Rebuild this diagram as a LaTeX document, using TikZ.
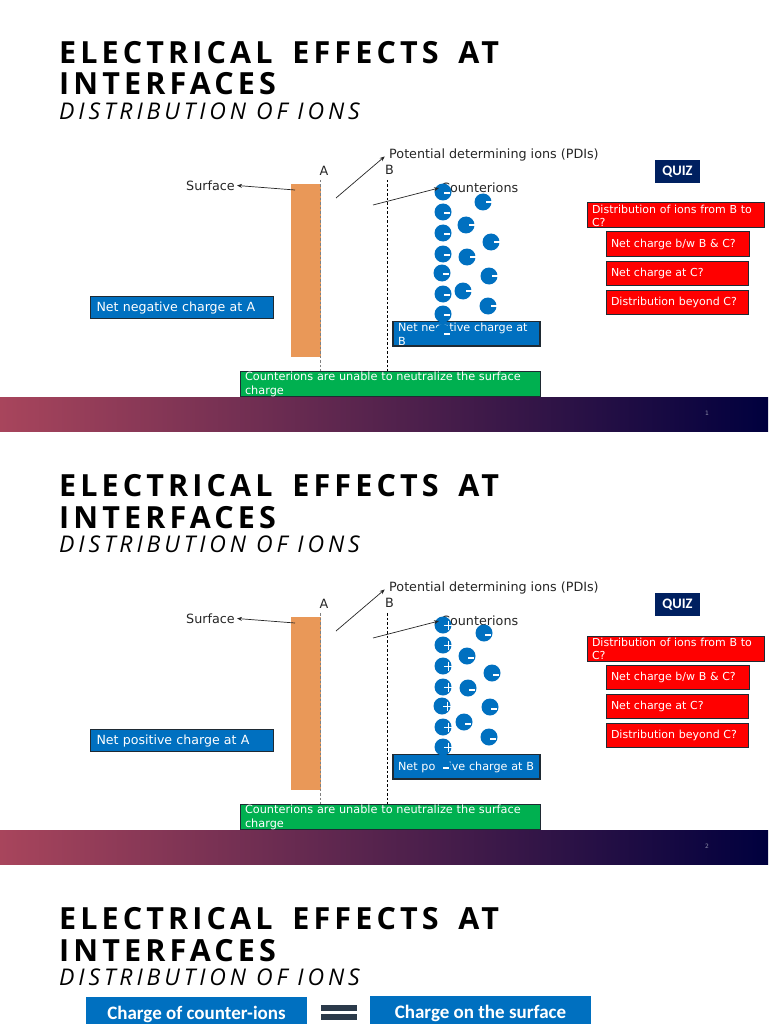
\documentclass[tikz,border=0pt]{standalone}
\usepackage{fontspec}
\setmainfont{DejaVu Sans}
\newfontfamily\titlefont[LetterSpace=13.5,WordSpace=1.64]{Open Sans}
\newfontfamily\subfont[LetterSpace=17]{Open Sans}
\newfontfamily\calfont{Carlito}
\usetikzlibrary{arrows.meta}
\definecolor{ionblue}{HTML}{0070C0}
\definecolor{boxgreen}{HTML}{00B050}
\definecolor{surfaceorange}{HTML}{E99858}
\definecolor{quiznavy}{HTML}{002060}
\definecolor{barleft}{HTML}{A8455C}
\definecolor{barright}{HTML}{00003E}
\definecolor{edgedark}{HTML}{1F2A33}
\definecolor{eqdark}{HTML}{2B3A4A}
\newcommand\dn[1]{\par\vspace*{-#1pt}}
\tikzset{
  titletext/.style={anchor=base west,inner sep=0pt,font=\titlefont\bfseries\fontsize{30.5}{31}\selectfont,text=black},
  subtitletext/.style={anchor=base west,inner sep=0pt,font=\subfont\itshape\fontsize{23}{24}\selectfont,text=black},
  lbl/.style={inner sep=2pt,font=\fontsize{12.75}{15}\selectfont,text=black!85},
  info/.style={draw=edgedark,line width=1pt,inner xsep=5pt,inner ysep=0pt,align=left,text=white,font=\fontsize{11.2}{14}\selectfont},
  bluebox/.style={info,fill=ionblue},
  greenbox/.style={info,fill=boxgreen,font=\fontsize{11.3}{14}\selectfont},
  redbox/.style={info,fill=red,font=\fontsize{11}{13.5}\selectfont},
  arrowline/.style={draw=black!85,line width=0.7pt,-{Stealth[length=5pt,width=4pt]}},
  divider/.style={dashed,dash pattern=on 2.5pt off 2pt,line width=0.8pt},
  ion/.style={fill=ionblue,draw=none},
  sign/.style={draw=white,line width=1.3pt},
  calbox/.style={fill=ionblue,draw=none,text=white,inner sep=0pt},
  caltext/.style={text=white,inner sep=0pt,font=\calfont\bfseries\fontsize{19}{21}\selectfont,anchor=base},
}
\newcommand\titleblock{%
  \node[titletext] (t1) at (59,63.5) {ELECTRICAL EFFECTS AT};
  \node[titletext] (t2) at (59,95) {INTERFACES};
  \node[subtitletext] (t3) at (59,119.5) {DISTRIBUTION OF IONS};
}
% common content of a slide; #1 text at A, #2 page number, #3 B box text
\newcommand\panel[3]{%
  \titleblock
  \node[fill=surfaceorange,minimum width=29.7pt,minimum height=173pt,inner sep=0pt] (surf) at (305.85,270.5) {};
  \coordinate (atop) at (320.8,180);
  \coordinate (abot) at (320.8,371);
  \coordinate (btop) at (387.7,180);
  \coordinate (bbot) at (387.7,371);
  \draw[divider,draw=black!50] (atop) -- (abot);
  \draw[divider,draw=black] (btop) -- (bbot);
  \node[lbl] (la) at (324,170.5) {A};
  \node[lbl] (lb) at (389.5,169.5) {B};
  \node[lbl,anchor=east] (surface) at (237,185.5) {Surface};
  \node[lbl,anchor=west] (pdi) at (387,154.5) {Potential determining ions (PDIs)};
  \node[lbl,anchor=west] (cnt) at (439,188) {Counterions};
  \node[bluebox,inner xsep=6.5pt,font=\fontsize{12.6}{15}\selectfont,text width=170pt,minimum height=22pt] (neta) at (181.5,307) {#1\dn{1.5}};
  \node[bluebox,line width=1.5pt,text width=137pt,minimum height=24.5pt] (netb) at (466.5,333.5) {#3};
  \node[greenbox,text width=290pt,minimum height=25pt] (green) at (390,383.5) {Counterions are unable to neutralize the surface\\charge\dn{2.5}};
  \node[fill=quiznavy,text=white,font=\calfont\bfseries\fontsize{14.5}{16}\selectfont,minimum width=45pt,minimum height=23pt,inner sep=0pt] (quiz) at (677.5,171.5) {QUIZ};
  \node[redbox,text width=167pt,minimum height=25pt] (r1) at (675.5,215.5) {Distribution of ions from B to\\C?\dn{1}};
  \node[redbox,text width=133pt,minimum height=24pt] (r2) at (677.5,244) {Net charge b/w B \& C?\dn{1}};
  \node[redbox,text width=132pt,minimum height=24pt] (r3) at (677,273) {Net charge at C?\dn{1}};
  \node[redbox,text width=132pt,minimum height=24pt] (r4) at (677,302) {Distribution beyond C?\dn{1}};
  \shade[left color=barleft,right color=barright] (0,397.5) rectangle (768,431.7);
  \node[inner sep=0pt,text=white!55!barright,font=\fontsize{6}{7}\selectfont] (pg) at (707,413) {#2};
}
\newcommand\arrowset{%
  \coordinate (s0) at (295,190);
  \coordinate (p0) at (336,198);
  \coordinate (c0) at (373,205);
  \draw[arrowline] (s0) -- (surface.east);
  \draw[arrowline,shorten >=3pt] (p0) -- (pdi.west);
  \draw[arrowline] (c0) -- (cnt.west);
}
\begin{document}
\begin{tikzpicture}[x=1pt,y=-1pt]
\useasboundingbox (0,0) rectangle (768,1024);
\clip (0,0) rectangle (768,1024);
\fill[white] (0,0) rectangle (768,1024);

% ---- slide 1
\begin{scope}[name prefix=a-]
  \panel{Net negative charge at A}{1}{Net negative charge at\\B\dn{1}}
  \foreach \x/\y in {443/192,443/212,443/233,443/254,442/273,443/294,443/314,443/333}{
    \fill[ion] (\x,\y) circle (8.5);
    \draw[sign] (\x+1,\y+1) -- (\x+7,\y+1);
  }
  \foreach \x/\y in {483/202,466/225,491/242,467/257,489/276,463/291,488/306}{
    \fill[ion] (\x,\y) circle (8.5);
    \draw[sign] (\x+3,\y) -- (\x+9,\y);
  }
  \arrowset
\end{scope}

% ---- slide 2
\begin{scope}[yshift=-433pt,name prefix=b-]
  \panel{Net positive charge at A}{2}{Net positive charge at B\dn{1.5}}
  \foreach \x/\y in {443/192,443/212,443/233,443/254,442/273,443/294,443/314}{
    \fill[ion] (\x,\y) circle (8.5);
    \draw[sign,line width=1pt] (\x+1,\y) -- (\x+9,\y);
    \draw[sign,line width=1pt] (\x+5,\y-4.5) -- (\x+5,\y+4.5);
  }
  \fill[ion] (443,334) circle (8);
  \draw[sign] (443,335) -- (449,335);
  \foreach \x/\y in {484/200,467/223,492/240,468/255,490/274,464/289,489/304}{
    \fill[ion] (\x,\y) circle (8.5);
    \draw[sign] (\x+1,\y+2) -- (\x+7,\y+2);
  }
  \arrowset
\end{scope}

% ---- slide 3
\begin{scope}[yshift=-866pt,name prefix=c-]
  \titleblock
  \node[calbox,minimum width=221pt,minimum height=40pt] (q) at (196.5,151) {};
  \node[calbox,minimum width=221pt,minimum height=40pt] (s) at (480.5,150) {};
  \node[caltext] (qt) at (196.5,153) {Charge of counter-ions};
  \node[caltext] (st) at (480.5,152) {Charge on the surface};
  \fill[eqdark] (321,139) rectangle (357,145);
  \fill[eqdark] (321,147.5) rectangle (357,153.5);
\end{scope}
\end{tikzpicture}
\end{document}
